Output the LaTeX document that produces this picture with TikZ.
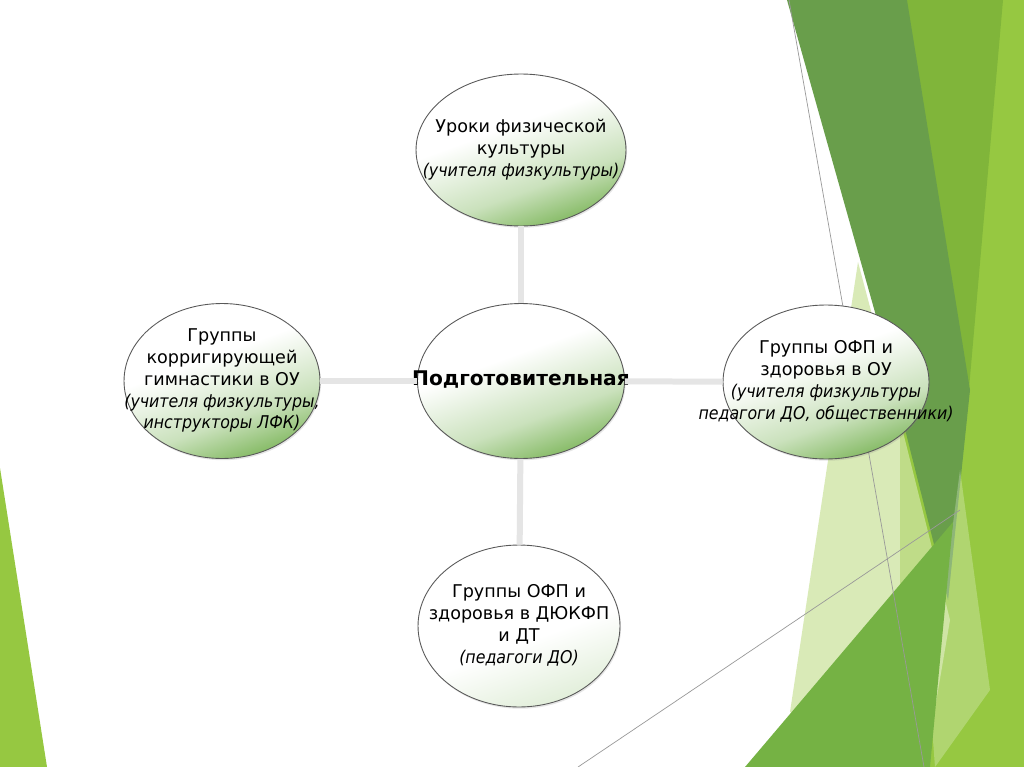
\documentclass[tikz,border=0pt]{standalone}
\usepackage{fontspec}
\setmainfont{DejaVu Sans}[ItalicFont={DejaVu Sans Condensed Oblique}]
\usetikzlibrary{shapes.geometric,shadows}
\definecolor{leafdark}{RGB}{105,158,75}
\definecolor{leafmid}{RGB}{128,181,58}
\definecolor{leafbright}{RGB}{150,200,65}
\definecolor{leaftri}{RGB}{117,178,68}
\definecolor{leafpale}{RGB}{205,228,160}
\definecolor{leaf}{RGB}{104,170,64}
\pgfdeclarehorizontalshading{ovalfill}{100bp}{color(0bp)=(white); color(42bp)=(white); color(62bp)=(leaf!35!white); color(80bp)=(leaf); color(100bp)=(leaf)}
\pgfdeclarehorizontalshading{ovalpale}{100bp}{color(0bp)=(white); color(55bp)=(white); color(80bp)=(leaf!25!white); color(100bp)=(leaf!40!white)}
\newcommand{\ovaltext}[1]{\makebox[0pt]{\begin{tabular}{@{}c@{}}#1\end{tabular}}}

\begin{document}
\begin{tikzpicture}[x=0.02cm,y=-0.02cm]
\tikzstyle{oval}=[ellipse, draw=black!65, line width=0.5pt, inner sep=0pt,
  minimum width=4.1cm, minimum height=3.1cm, shading=ovalfill, shading angle=-70,
  drop shadow={shadow xshift=0.6pt, shadow yshift=-1pt, opacity=0.2},
  font=\fontsize{10}{12.4}\selectfont]
\tikzstyle{link}=[draw=black!10, line width=0.12cm]
\useasboundingbox (0,0) rectangle (1024,767);
\fill [white] (0,0) rectangle (1024,767);
\fill [leafbright] (0,468) -- (47,767) -- (0,767) -- cycle;
\fill [leafbright] (900,0) -- (1024,0) -- (1024,767) -- (900,767) -- cycle;
\fill [leafmid] (905,0) -- (1003,0) -- (968,400) -- (948,600) -- cycle;
\fill [leafdark] (787,0) -- (907,0) -- (970,390) -- (948,600) -- (880,330) -- cycle;
\fill [leafpale, opacity=0.75] (858,262) -- (900,420) -- (950,620) -- (925,767) -- (790,712) -- cycle;
\fill [white, opacity=0.25] (960,470) -- (990,690) -- (935,767) -- (930,700) -- cycle;
\fill [leaftri] (745,767) -- (953,522) -- (930,767) -- cycle;
\draw [black!40, line width=0.4pt] (789,0) -- (924,767);
\draw [black!40, line width=0.4pt] (578,767) -- (960,510);
\node [oval, minimum width=4.2cm, minimum height=3.04cm] (lesson) at (521,150) {\ovaltext{Уроки физической\\ культуры\\ \itshape(учителя физкультуры)}};
\node [oval, minimum width=4.14cm] (prep) at (521,381) {\ovaltext{\fontsize{11.5}{14}\selectfont\bfseries Подготовительная}};
\node [oval, minimum width=3.92cm] (corr) at (222,381) {\ovaltext{Группы\\ корригирующей\\ гимнастики в ОУ\\ \itshape(учителя физкультуры,\\ \itshape инструкторы ЛФК)}};
\node [oval, minimum width=4.12cm, minimum height=3.08cm] (ofp) at (826,382) {\ovaltext{Группы ОФП и\\ здоровья в ОУ\\ \itshape(учителя физкультуры\\ \itshape педагоги ДО, общественники)}};
\node [oval, shading=ovalpale, minimum width=4.04cm, minimum height=3.24cm] (club) at (519,626) {\ovaltext{Группы ОФП и\\ здоровья в ДЮКФП\\ и ДТ\\ \itshape(педагоги ДО)}};
\draw [link] (lesson) -- (prep);
\draw [link] (prep) -- (club);
\draw [link] (corr) -- (prep);
\draw [link] (prep) -- (ofp);
\end{tikzpicture}
\end{document}
